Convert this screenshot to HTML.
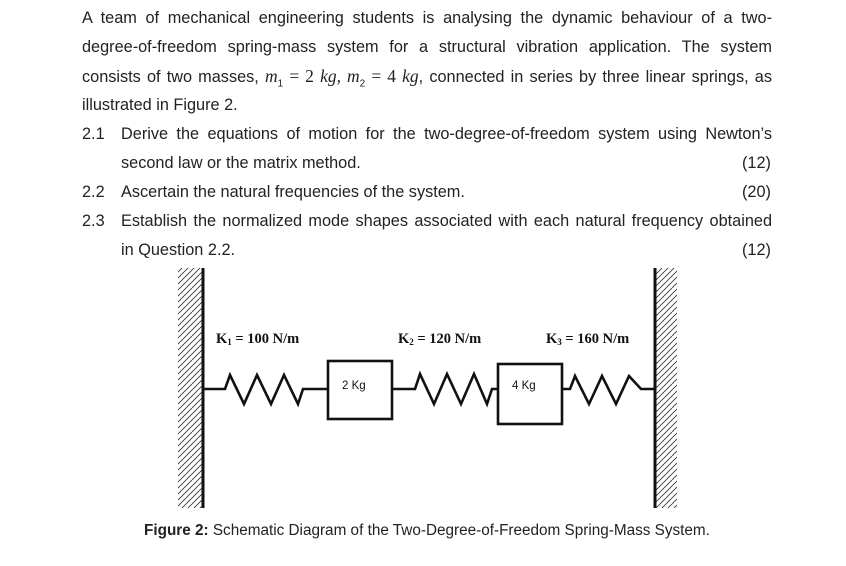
<!DOCTYPE html>
<html><head><meta charset="utf-8"><style>
body{margin:0;background:#fff;width:846px;height:566px;position:relative;overflow:hidden;font-family:"Liberation Sans",Arial,sans-serif;color:#222;}
.l{position:absolute;font-size:16.3px;line-height:20px;white-space:nowrap;}
.j{text-align:justify;text-align-last:justify;white-space:normal;}
.m{font-family:"Liberation Serif",serif;font-style:italic;font-size:17.5px;}
</style></head><body>
<div class="l j" style="left:82px;top:8px;width:690px">A team of mechanical engineering students is analysing the dynamic behaviour of a two-</div>
<div class="l j" style="left:82px;top:37px;width:690px">degree-of-freedom spring-mass system for a structural vibration application. The system</div>
<div class="l j" style="left:82px;top:66px;width:690px">consists of two masses, <span class="m">m</span><sub style="font-size:10px">1</sub> <span class="m" style="font-style:normal">= 2</span> <span class="m">kg, m</span><sub style="font-size:10px">2</sub> <span class="m" style="font-style:normal">= 4</span> <span class="m">kg</span>, connected in series by three linear springs, as</div>
<div class="l" style="left:82px;top:95px">illustrated in Figure 2.</div>
<div class="l" style="left:82px;top:124px">2.1</div>
<div class="l j" style="left:121px;top:124px;width:651px">Derive the equations of motion for the two-degree-of-freedom system using Newton’s</div>
<div class="l" style="left:121px;top:153px">second law or the matrix method.</div>
<div class="l" style="left:742px;top:153px">(12)</div>
<div class="l" style="left:82px;top:182px">2.2</div>
<div class="l" style="left:121px;top:182px">Ascertain the natural frequencies of the system.</div>
<div class="l" style="left:742px;top:182px">(20)</div>
<div class="l" style="left:82px;top:211px">2.3</div>
<div class="l j" style="left:121px;top:211px;width:651px">Establish the normalized mode shapes associated with each natural frequency obtained</div>
<div class="l" style="left:121px;top:240px">in Question 2.2.</div>
<div class="l" style="left:742px;top:240px">(12)</div>
<svg width="846" height="566" style="position:absolute;left:0;top:0">
<defs><pattern id="h" width="6" height="6" patternUnits="userSpaceOnUse"><path d="M-1,7 L7,-1 M-1,1 L1,-1 M5,7 L7,5" stroke="#333" stroke-width="0.8"/></pattern></defs>
<rect x="178" y="268" width="25" height="240" fill="url(#h)"/>
<rect x="655" y="268" width="22" height="240" fill="url(#h)"/>
<line x1="203" y1="268" x2="203" y2="508" stroke="#111" stroke-width="3"/>
<line x1="655" y1="268" x2="655" y2="508" stroke="#111" stroke-width="3"/>
<g fill="none" stroke="#111" stroke-width="2.6" stroke-linejoin="miter">
<polyline points="203,389 225,389 230,375 244,404 257,375 271,404 284,375 298,404 303,389 328,389"/>
<polyline points="392,389 415,389 420,374 434,404 447,374 461,404 474,374 487,404 492,389 498,389"/>
<polyline points="563,389 570,389 575,376 589,404 602,376 616,404 629,376 641,389 655,389"/>
<rect x="328" y="361" width="64" height="58"/>
<rect x="498" y="364" width="64" height="60"/>
</g>
<g font-family="Liberation Sans,Arial,sans-serif" font-size="11.5" fill="#111">
<text x="342" y="389">2 Kg</text><text x="512" y="389">4 Kg</text></g>
<g font-family="Liberation Serif,serif" font-weight="bold" font-size="14.5" fill="#111">
<text x="216" y="343">K<tspan font-size="9" dy="2">1</tspan><tspan dy="-2"> = 100 N/m</tspan></text>
<text x="398" y="343">K<tspan font-size="9" dy="2">2</tspan><tspan dy="-2"> = 120 N/m</tspan></text>
<text x="546" y="343">K<tspan font-size="9" dy="2">3</tspan><tspan dy="-2"> = 160 N/m</tspan></text>
</g>
</svg>
<div class="l" style="left:144px;top:521px;font-size:15.3px"><b>Figure 2:</b> Schematic Diagram of the Two-Degree-of-Freedom Spring-Mass System.</div>
</body></html>
